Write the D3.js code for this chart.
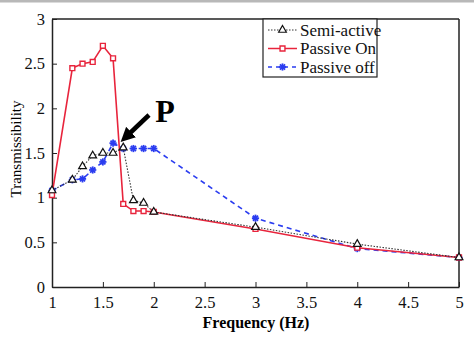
<!DOCTYPE html>
<html><head><meta charset="utf-8">
<script src="https://cdn.jsdelivr.net/npm/d3@7"></script>
<style>body{margin:0;background:#fff}svg{display:block}</style>
</head><body>
<script>
const freq = [1, 1.2, 1.3, 1.4, 1.5, 1.6, 1.7, 1.8, 1.9, 2, 3, 4, 5];
const semiActive = [1.08, 1.2, 1.35, 1.47, 1.5, 1.5, 1.56, 0.97, 0.94, 0.84, 0.67, 0.48, 0.33];
const passiveOn  = [1.03, 2.45, 2.5, 2.52, 2.7, 2.56, 0.93, 0.85, 0.85, 0.84, 0.65, 0.44, 0.33];
const passiveOff = [1.08, 1.2, 1.21, 1.31, 1.4, 1.61, 1.55, 1.55, 1.55, 1.55, 0.77, 0.43, 0.33];
const xTicks = [1, 1.5, 2, 2.5, 3, 3.5, 4, 4.5, 5];
const yTicks = [0, 0.5, 1, 1.5, 2, 2.5, 3];
const seriesNames = ["Semi-active", "Passive On", "Passive off"];

const W = 474, H = 348;
const font = "Liberation Serif";
const svg = d3.select("body").append("svg").attr("width", W).attr("height", H)
  .attr("font-family", font);
svg.append("rect").attr("x",0).attr("y",0).attr("width",W).attr("height",2.5).attr("fill","#b8b8b8");

const x = d3.scaleLinear().domain([1,5]).range([52,459]);
const y = d3.scaleLinear().domain([0,3]).range([287,19]);

// axes
const gx = svg.append("g").attr("transform","translate(0,287)")
  .call(d3.axisBottom(x).tickValues(xTicks).tickSizeInner(-5).tickSizeOuter(0).tickPadding(9).tickFormat(d=>d));
const gy = svg.append("g").attr("transform","translate(52,0)")
  .call(d3.axisLeft(y).tickValues(yTicks).tickSizeInner(-5).tickSizeOuter(0).tickPadding(7).tickFormat(d=>d));
[gx,gy].forEach(g=>{
  g.attr("font-family", font).attr("font-size",16.5);
  g.select(".domain").attr("stroke","#222").attr("stroke-width",1.5);
  g.selectAll(".tick line").attr("stroke","#222");
  g.selectAll("text").attr("font-family",font).attr("font-size",16.5).attr("fill","#111");
});
// box top/right
svg.append("line").attr("x1",52).attr("x2",459).attr("y1",19).attr("y2",19).attr("stroke","#222").attr("stroke-width",1.5);
svg.append("line").attr("x1",459).attr("x2",459).attr("y1",19).attr("y2",287).attr("stroke","#222").attr("stroke-width",1.5);

svg.append("text").attr("x",256).attr("y",328).attr("text-anchor","middle")
  .attr("font-family",font).attr("font-weight","bold").attr("font-size",16).text("Frequency (Hz)");
svg.append("text").attr("transform","translate(21,149) rotate(-90)").attr("text-anchor","middle")
  .attr("font-family",font).attr("font-size",15).text("Transmissibility");

const line = d3.line().x(d=>x(d[0])).y(d=>y(d[1]));
const tri = d3.symbol().type(d3.symbolTriangle).size(26);
const sq = d3.symbol().type(d3.symbolSquare).size(24);

function drawSeries(vals, color, dash, width, kind){
  const pts = freq.map((f,i)=>[f, vals[i]]);
  svg.append("path").datum(pts).attr("d",line).attr("fill","none")
    .attr("stroke",color).attr("stroke-width",width).attr("stroke-dasharray",dash);
  const g = svg.append("g");
  pts.forEach(p=>drawMarker(g, x(p[0]), y(p[1]), kind));
}
function drawMarker(g, cx, cy, kind){
  if(kind==="tri"){
    g.append("path").attr("d",tri).attr("transform",`translate(${cx},${cy})`)
      .attr("fill","#fff").attr("stroke","#111").attr("stroke-width",1.2);
  } else if(kind==="sq"){
    g.append("path").attr("d",sq).attr("transform",`translate(${cx},${cy})`)
      .attr("fill","#fff").attr("stroke","#e8243c").attr("stroke-width",1.4);
  } else {
    const r = 3.6;
    const sg = g.append("g").attr("transform",`translate(${cx},${cy})`);
    [0,45,90,135].forEach(a=>{
      const rad = a*Math.PI/180;
      sg.append("line").attr("x1",-r*Math.cos(rad)).attr("y1",-r*Math.sin(rad))
        .attr("x2",r*Math.cos(rad)).attr("y2",r*Math.sin(rad))
        .attr("stroke","#2a3cf0").attr("stroke-width",1.8);
    });
  }
}
drawSeries(passiveOff, "#2a3cf0", "5,4", 1.6, "star");
drawSeries(passiveOn, "#e8243c", null, 1.6, "sq");
drawSeries(semiActive, "#333", "1.5,1.5", 1.1, "tri");

// legend
const lg = svg.append("g");
lg.append("rect").attr("x",263).attr("y",19).attr("width",114).attr("height",58)
  .attr("fill","#fff").attr("stroke","#222").attr("stroke-width",1.2);
const legendStyles = [
  {color:"#333", dash:"1.5,1.5", w:1, kind:"tri"},
  {color:"#e8243c", dash:null, w:1.5, kind:"sq"},
  {color:"#2a3cf0", dash:"4,4", w:1.5, kind:"star"}
];
seriesNames.forEach((n,i)=>{
  const yy = 30 + i*18.5;
  const s = legendStyles[i];
  lg.append("line").attr("x1",268).attr("x2",297).attr("y1",yy).attr("y2",yy)
    .attr("stroke",s.color).attr("stroke-width",s.w).attr("stroke-dasharray",s.dash);
  drawMarker(lg, 282.5, yy, s.kind);
  lg.append("text").attr("x",300).attr("y",yy+5.5).attr("font-family",font).attr("font-size",17)
    .attr("fill","#111").text(n);
});

// annotation arrow + P
const defs = svg.append("defs");
defs.append("marker").attr("id","ah").attr("viewBox","0 0 10 10").attr("refX",2).attr("refY",5)
  .attr("markerWidth",3.2).attr("markerHeight",3.2).attr("orient","auto")
  .append("path").attr("d","M0,0 L10,5 L0,10 z").attr("fill","#000");
svg.append("line").attr("x1",149).attr("y1",115).attr("x2",129).attr("y2",134)
  .attr("stroke","#000").attr("stroke-width",4.5).attr("marker-end","url(#ah)");
svg.append("text").attr("x",165).attr("y",122).attr("text-anchor","middle")
  .attr("font-family",font).attr("font-weight","bold").attr("font-size",32).text("P");
</script>
</body></html>
